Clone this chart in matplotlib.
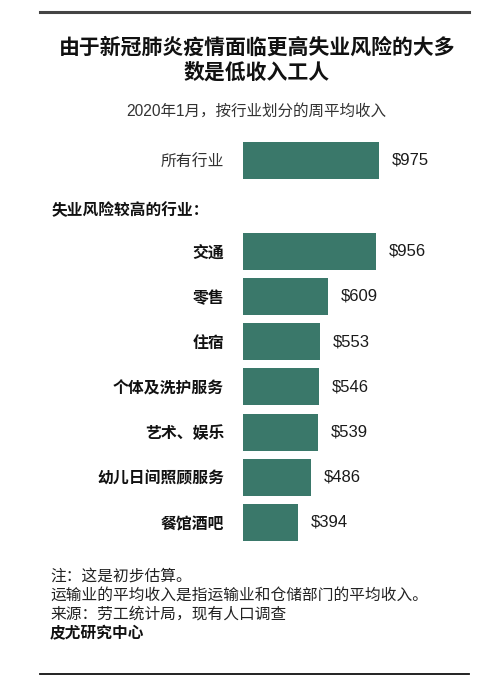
import matplotlib
matplotlib.use("Agg")
import matplotlib.pyplot as plt
from matplotlib.lines import Line2D

plt.rcParams['font.family'] = ['Noto Sans CJK SC', 'DejaVu Sans']

title_lines = ["由于新冠肺炎疫情面临更高失业风险的大多", "数是低收入工人"]
subtitle = "2020年1月，按行业划分的周平均收入"
all_label = "所有行业"
all_value = 975
group_header = "失业风险较高的行业："
categories = ["交通", "零售", "住宿", "个体及洗护服务", "艺术、娱乐", "幼儿日间照顾服务", "餐馆酒吧"]
values = [956, 609, 553, 546, 539, 486, 394]
notes = ["注：这是初步估算。",
         "运输业的平均收入是指运输业和仓储部门的平均收入。",
         "来源：劳工统计局，现有人口调查"]
credit = "皮尤研究中心"

W, H = 504, 686
fig = plt.figure(figsize=(W / 100, H / 100), dpi=100)

def fx(px):
    return px / W

def fy(py):
    return 1 - py / H

bar_color = "#3a786a"

slot = 45.25
top_px = 160.5 - 0.6 * slot
bot_px = 160.5 + 8.6 * slot
left_px, right_px = 243, 469
ax = fig.add_axes([fx(left_px), fy(bot_px), fx(right_px - left_px), (bot_px - top_px) / H])
xmax = (right_px - left_px) / (136 / 975)
ax.set_xlim(0, xmax)
ax.set_ylim(8.6, -0.6)

labels = [all_label] + categories
vals = [all_value] + values
ypos = [0] + list(range(2, 2 + len(categories)))
ax.barh(ypos, vals, height=37 / slot, color=bar_color, edgecolor="none")
for y, v in zip(ypos, vals):
    ax.annotate(f"${v}", xy=(v, y), xytext=(9, 0), textcoords="offset points",
                va="center", ha="left", fontsize=12,
                family=['Liberation Sans', 'DejaVu Sans'], color="#1a1a1a")

ax.set_yticks(ypos)
ax.set_yticklabels(labels)
ax.tick_params(axis="y", length=0, pad=13.5, labelsize=11.4)
for i, t in enumerate(ax.get_yticklabels()):
    if i == 0:
        t.set_color("#333333")
    else:
        t.set_fontweight("bold")
        t.set_color("#111111")
ax.set_xticks([])
for s in ax.spines.values():
    s.set_visible(False)

fig.text(fx(52), fy(210), group_header, fontsize=11.3, fontweight="bold",
         ha="left", va="center", color="#111111")

fig.text(fx(257), fy(47), title_lines[0], fontsize=15, fontweight="bold",
         ha="center", va="center", color="#111111")
fig.text(fx(257), fy(72), title_lines[1], fontsize=15, fontweight="bold",
         ha="center", va="center", color="#111111")
fig.text(fx(256), fy(111), subtitle, fontsize=11.2, ha="center", va="center", color="#333333",
         family=['Liberation Sans', 'Noto Sans CJK SC'])

for i, n in enumerate(notes):
    fig.text(fx(50), fy(576 + 19 * i), n, fontsize=11.3, ha="left", va="center", color="#222222")
fig.text(fx(50), fy(633), credit, fontsize=11.3, fontweight="bold", ha="left", va="center",
         color="#111111")

fig.add_artist(Line2D([fx(40), fx(469)], [fy(12), fy(12)], color="#444444", lw=2.2))
fig.add_artist(Line2D([fx(40), fx(469)], [fy(674), fy(674)], color="#111111", lw=1.3))

fig.savefig("out.png", dpi=100, facecolor="white")
